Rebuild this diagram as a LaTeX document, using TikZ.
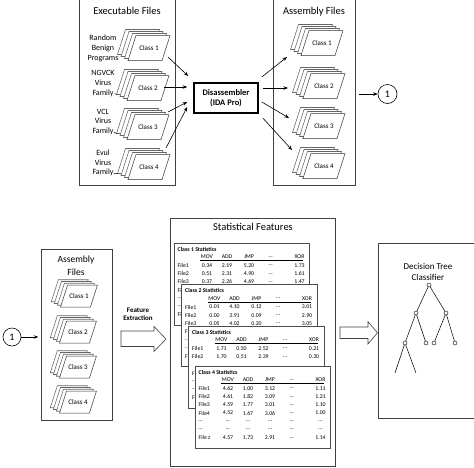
\documentclass[tikz,border=0pt]{standalone}
\usepackage{fontspec}
\setmainfont{Carlito}
\usetikzlibrary{arrows.meta}
\def\sheet{-- ++(34,0) -- ++(8,-25) -- ++(-34,0) -- cycle}
\def\filestack#1#2#3#4{%
  \begin{scope}[shift={(#2)},scale=#4]
    \foreach \k in {3,2,1}
      \filldraw[backsheet] (-21-3.5*\k,12.5-2*\k) \sheet;
    \filldraw[frontsheet] (-21,12.5) \sheet;
    \coordinate (#1-c) at (-31.5,6.5);
    \node[classtxt] (#1) at (0,0) {#3};
  \end{scope}}
\def\stattable#1#2#3#4{%
  \begin{scope}[shift={(#2)}]
    \filldraw[tabbox] (0,0) rectangle (135.5,82);
    \node[tabtitle] (#1-t) at (3.5,6) {#3};
    \foreach \h/\x [count=\j] in {MOV/33,ADD/53,JMP/75,…/96.5,XOR/125.5}
      \node[tabcell] (#1-h\j) at (\x,14) {\h};
    \draw[tabrule] (26,17.3) -- (129,17.3);
    \foreach \f/\va/\vb/\vc/\vd/\ve [count=\i] in {#4} {
      \node[tabcell,anchor=west] (#1-f\i) at (3.5,14.3+8.2*\i) {\f};
      \foreach \v/\x [count=\j] in {\va/33,\vb/53,\vc/75,\vd/96.5,\ve/125.5}
        \node[tabcell] (#1-v\i-\j) at (\x,14.3+8.2*\i) {\v};
    }
  \end{scope}}

\begin{document}
\begin{tikzpicture}[x=1pt,y=-1pt,
    panel/.style={draw=black!75,line width=0.6pt,inner sep=0},
    paneltitle/.style={font=\fontsize{10.5}{12.5}\selectfont,align=center,inner sep=0},
    srclbl/.style={font=\fontsize{8}{9.6}\selectfont,align=center,inner sep=0},
    classtxt/.style={font=\fontsize{7}{8}\selectfont,inner sep=0},
    backsheet/.style={draw=black!60,fill=white,line width=0.55pt},
    frontsheet/.style={draw=black!80,fill=white,line width=0.5pt},
    arr/.style={-{Stealth[length=4.5pt,width=3.5pt]},line width=0.6pt},
    disbox/.style={draw,line width=1.6pt,minimum width=64pt,minimum height=30pt,
      inner sep=0,align=center,font=\bfseries\fontsize{8.5}{9.5}\selectfont},
    tabbox/.style={draw=black!70,fill=white,line width=0.5pt},
    tabtitle/.style={font=\bfseries\fontsize{5.8}{7}\selectfont,anchor=west,inner sep=0},
    tabcell/.style={font=\fontsize{5.8}{7}\selectfont,inner sep=0},
    tabrule/.style={line width=0.4pt},
    tnode/.style={circle,draw,fill=white,minimum size=4pt,inner sep=0},
    tedge/.style={line width=0.5pt},
    onecirc/.style={circle,draw,line width=0.6pt,minimum size=19pt,inner sep=0,
      font=\fontsize{10}{12}\selectfont},
    fatarrow/.style={draw=black!75,fill=white,line width=0.6pt,line join=miter}]
\useasboundingbox (0,0) rectangle (474,467);

% --- disassembly stage
\node[panel,minimum width=96pt,minimum height=190pt] (exebox) at (127,90) {};
\node[paneltitle] (exetitle) at (127,11) {Executable Files};
\filestack{exe1}{149,48}{Class 1}{1}
\filestack{exe2}{148,88}{Class 2}{1}
\filestack{exe3}{148,127}{Class 3}{1}
\filestack{exe4}{149,167}{Class 4}{1}
\node[srclbl] (benign) at (103,48.5) {Random\\Benign\\Programs};
\node[srclbl] (ngvck) at (103,83.5) {NGVCK\\Virus\\Family};
\node[srclbl] (vcl) at (103,122) {VCL\\Virus\\Family};
\node[srclbl] (evul) at (103,163) {Evul\\Virus\\Family};
\draw[line width=0.5pt] ([yshift=3pt]ngvck.south east) -- (exe2-c);
\draw[line width=0.5pt] ([yshift=3pt]vcl.south east) -- (exe3-c);
\draw[line width=0.5pt] ([yshift=3pt]evul.south east) -- (exe4-c);

\node[disbox] (dis) at (226,98) {Disassembler\\(IDA Pro)};
\draw[arr] ([shift={(19,9)}]exe1.center) -- ([shift={(-5,-22)}]dis.west);
\draw[arr] ([shift={(16,-1)}]exe2.center) -- ([shift={(-6,-11)}]dis.west);
\draw[arr] ([shift={(20,-15)}]exe3.center) -- ([shift={(-6,4)}]dis.west);
\draw[arr] ([shift={(17,-19)}]exe4.center) -- ([shift={(-6,9)}]dis.west);

\node[panel,minimum width=82pt,minimum height=190pt] (asmtop) at (314,90) {};
\node[paneltitle] (asmtitle) at (314,12) {Assembly Files};
\filestack{asm1}{322,43}{Class 1}{1}
\filestack{asm2}{324,86}{Class 2}{1}
\filestack{asm3}{324,126}{Class 3}{1}
\filestack{asm4}{324,166}{Class 4}{1}
\draw[arr] ([shift={(3,-21)}]dis.east) -- ([shift={(-35,14)}]asm1.center);
\draw[arr] ([shift={(4,-10)}]dis.east) -- ([shift={(-36,2)}]asm2.center);
\draw[arr] ([shift={(3,4)}]dis.east) -- ([shift={(-35,-8)}]asm3.center);
\draw[arr] ([shift={(4,20)}]dis.east) -- ([shift={(-32,-16)}]asm4.center);

\node[onecirc] (c1top) at (387.5,94) {1};
\draw[arr] ([xshift=-19pt]c1top.west) -- (c1top.west);

% --- feature and classifier stage
\node[onecirc,minimum size=18pt] (c1bot) at (12,337) {1};
\node[panel,minimum width=71pt,minimum height=171pt] (asmbot) at (76.5,334.5) {};
\node[paneltitle,font=\fontsize{9.5}{13}\selectfont] (asmbottitle) at (76,266) {Assembly\\Files};
\filestack{bot1}{79,296}{Class 1}{0.88}
\filestack{bot2}{78,332}{Class 2}{0.88}
\filestack{bot3}{78,367}{Class 3}{0.88}
\filestack{bot4}{78,402}{Class 4}{0.88}
\draw[arr] (c1bot.east) -- ++(17,0);

\node[font=\bfseries\fontsize{7}{8}\selectfont,align=center,inner sep=0] (fxlbl) at (138,314) {Feature\\Extraction};
\draw[fatarrow] (121,331) -- (154,331) -- (154,326.5) -- (166,339)
  -- (154,351.5) -- (154,346.5) -- (121,346.5) -- cycle;

\node[panel,minimum width=165pt,minimum height=248pt] (statbox) at (252.5,342) {};
\node[paneltitle,font=\fontsize{10.5}{12.5}\selectfont] (stattitle) at (253,227) {Statistical Features};
\stattable{t1}{174,243}{Class 1 Statistics}{File1/0.34/2.19/5.20/…/1.73,%
File2/0.51/2.31/4.90/…/1.61,File3/0.37/2.26/4.69/…/1.47,%
File4/{}/{}/{}/{}/{},…/{}/{}/{}/{}/{},…/{}/{}/{}/{}/{},File z/{}/{}/{}/{}/{}}
\stattable{t2}{181.5,284.5}{Class 2 Statistics}{File1/0.01/4.10/0.12/…/3.01,%
File2/0.00/3.91/0.09/…/2.90,File3/0.05/4.02/0.20/…/3.05,%
File4/{}/{}/{}/{}/{},…/{}/{}/{}/{}/{},…/{}/{}/{}/{}/{},File z/{}/{}/{}/{}/{}}
\stattable{t3}{188.5,326}{Class 3 Statistics}{File1/1.71/0.50/2.52/…/0.21,%
File2/1.70/0.51/2.39/…/0.30,{}/{}/{}/{}/{}/{},%
File4/{}/{}/{}/{}/{},…/{}/{}/{}/{}/{},…/{}/{}/{}/{}/{},File z/{}/{}/{}/{}/{}}
\stattable{t4}{195,366}{Class 4 Statistics}{File1/4.62/1.00/3.12/…/1.11,%
File2/4.61/1.82/3.09/…/1.21,File3/4.59/1.77/3.01/…/1.10,%
File4/4.52/1.67/3.06/…/1.00,…/…/…/…/…/…,…/…/…/…/…/…,File z/4.57/1.73/2.91/…/1.14}

\draw[fatarrow] (340,327) -- (368,327) -- (368,321.7) -- (377.5,332.8)
  -- (368,344) -- (368,338.5) -- (340,338.5) -- cycle;

\node[panel,minimum width=104pt,minimum height=175pt] (treebox) at (430,330.5) {};
\node[paneltitle,font=\fontsize{9}{10.5}\selectfont] (treetitle) at (428,272) {Decision Tree\\Classifier};
\node[tnode] (root) at (429,285) {};
\node[tnode] (tl) at (416,313) {};
\node[tnode] (tr) at (446,313) {};
\node[tnode] (tll) at (405,343) {};
\node[tnode] (tlr) at (426,343) {};
\node[tnode] (trl) at (434,343) {};
\node[tnode] (trr) at (455,343) {};
\coordinate (e1) at (395,373);
\coordinate (e2) at (416,373);
\draw[tedge] (root) -- (tl);
\draw[tedge] (root) -- (tr);
\draw[tedge] (tl) -- (tll);
\draw[tedge] (tl) -- (tlr);
\draw[tedge] (tr) -- (trl);
\draw[tedge] (tr) -- (trr);
\draw[tedge] (tll) -- (e1);
\draw[tedge] (tll) -- (e2);
\end{tikzpicture}
\end{document}
